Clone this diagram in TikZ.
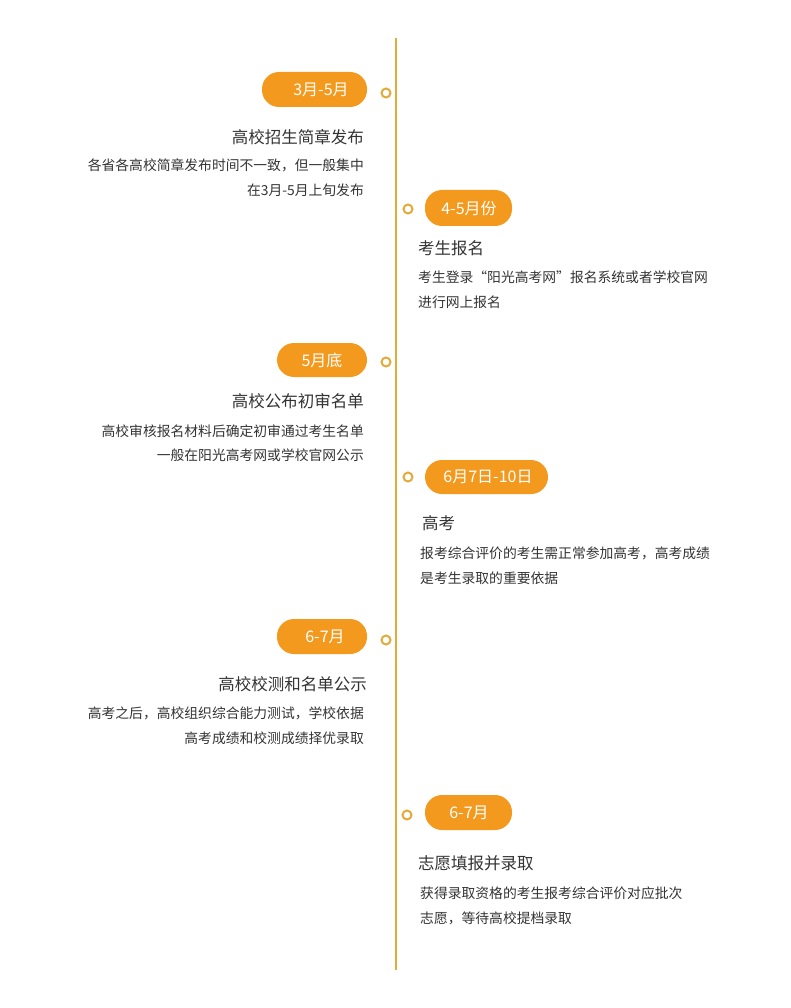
\documentclass[tikz,border=0pt]{standalone}
\usepackage{fontspec}
\setmainfont{Noto Sans CJK SC}
\definecolor{og}{HTML}{F39A1E}
\definecolor{ln}{HTML}{E3AA3C}
\definecolor{tx}{HTML}{333333}
\begin{document}
\begin{tikzpicture}[x=1pt,y=-1pt,
 pill/.style={text=white,font=\fontsize{16}{18}\selectfont,inner sep=0pt},
 dot/.style={circle,draw=ln,line width=2pt,minimum size=9pt,inner sep=0pt,fill=white},
 ttl/.style={text=tx,font=\fontsize{16.5}{18}\selectfont,inner sep=0pt},
 bd/.style={text=tx,font=\fontsize{13.8}{16}\selectfont,inner sep=0pt}]
\useasboundingbox (0,0) rectangle (790,1008);
\coordinate (top) at (396,38); \coordinate (bot) at (396,970);
\draw[ln,line width=1.2pt] (top)--(bot);
% 1
\fill[og,rounded corners=17pt] (262,72) rectangle (367,107);
\node[pill] (p1) at (321,89.5) {3月-5月};
\node[dot] (c1) at (386,93) {};
\node[ttl,anchor=east] (t1) at (364,137) {高校招生简章发布};
\node[bd,anchor=east] (b1a) at (364,165) {各省各高校简章发布时间不一致，但一般集中};
\node[bd,anchor=east] (b1b) at (364,190) {在3月-5月上旬发布};
% 2
\node[dot] (c2) at (408,209) {};
\fill[og,rounded corners=17pt] (425,190) rectangle (512,226);
\node[pill] (p2) at (469,208) {4-5月份};
\node[ttl,anchor=west] (t2) at (418,248) {考生报名};
\node[bd,anchor=west] (b2a) at (418,277) {考生登录“阳光高考网”报名系统或者学校官网};
\node[bd,anchor=west] (b2b) at (418,302) {进行网上报名};
% 3
\fill[og,rounded corners=17pt] (277,343) rectangle (367,377);
\node[pill] (p3) at (322,360) {5月底};
\node[dot] (c3) at (386,362) {};
\node[ttl,anchor=east] (t3) at (364,401) {高校公布初审名单};
\node[bd,anchor=east] (b3a) at (364,431) {高校审核报名材料后确定初审通过考生名单};
\node[bd,anchor=east] (b3b) at (364,455) {一般在阳光高考网或学校官网公示};
% 4
\node[dot] (c4) at (408,477) {};
\fill[og,rounded corners=17pt] (425,460) rectangle (548,494);
\node[pill] (p4) at (488,477) {6月7日-10日};
\node[ttl,anchor=west] (t4) at (422,523) {高考};
\node[bd,anchor=west] (b4a) at (420,553) {报考综合评价的考生需正常参加高考，高考成绩};
\node[bd,anchor=west] (b4b) at (420,578) {是考生录取的重要依据};
% 5
\fill[og,rounded corners=17pt] (277,619) rectangle (367,654);
\node[pill] (p5) at (325,636.5) {6-7月};
\node[dot] (c5) at (386,640) {};
\node[ttl,anchor=east] (t5) at (367,684) {高校校测和名单公示};
\node[bd,anchor=east] (b5a) at (364,713) {高考之后，高校组织综合能力测试，学校依据};
\node[bd,anchor=east] (b5b) at (364,738) {高考成绩和校测成绩择优录取};
% 6
\node[dot] (c6) at (407,815) {};
\fill[og,rounded corners=17pt] (425,795) rectangle (512,830);
\node[pill] (p6) at (469,812.5) {6-7月};
\node[ttl,anchor=west] (t6) at (418,863) {志愿填报并录取};
\node[bd,anchor=west] (b6a) at (420,893) {获得录取资格的考生报考综合评价对应批次};
\node[bd,anchor=west] (b6b) at (420,918) {志愿，等待高校提档录取};
\end{tikzpicture}
\end{document}
